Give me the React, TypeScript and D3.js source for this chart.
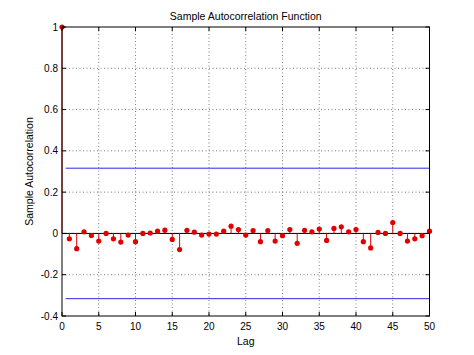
import React from "react";
import * as d3 from "d3";

const lags: number[] = d3.range(0, 51);
const acf: number[] = [
  1, -0.026, -0.074, 0.008, -0.01, -0.037, 0.0, -0.026, -0.042, -0.008, -0.04,
  0.0, 0.002, 0.011, 0.016, -0.029, -0.078, 0.015, 0.006, -0.008, -0.003,
  -0.003, 0.011, 0.035, 0.019, -0.008, 0.014, -0.04, 0.014, -0.037, -0.011,
  0.019, -0.048, 0.015, 0.008, 0.021, -0.034, 0.024, 0.032, 0.008, 0.019,
  -0.04, -0.07, 0.005, 0.0, 0.053, 0.0, -0.037, -0.026, -0.011, 0.011,
];
const bound = 0.316;
const boundStart = 0.5;
const xTicks: number[] = [0, 5, 10, 15, 20, 25, 30, 35, 40, 45, 50];
const yTicks: number[] = [-0.4, -0.2, 0, 0.2, 0.4, 0.6, 0.8, 1];

const W = 474;
const H = 355;
const L = 62;
const R = 429.5;
const T = 27;
const B = 316;
const FONT = "'Liberation Sans', Arial, Helvetica, sans-serif";

export default function App() {
  const x = d3.scaleLinear().domain([0, 50]).range([L, R]);
  const y = d3.scaleLinear().domain([-0.4, 1]).range([B, T]);
  const red = "#e00000";
  const blue = "#2a2ae0";
  const fmt = (v: number) => (Math.abs(v) < 1e-9 ? "0" : String(+v.toFixed(1)));
  return (
    <svg
      width={W}
      height={H}
      style={{ position: "absolute", left: 0, top: 0, background: "#fff" }}
      fontFamily={FONT}
    >
      <rect x={0} y={0} width={W} height={H} fill="#fff" />
      {/* grid */}
      {xTicks.slice(1, -1).map((t) => (
        <line
          key={"gx" + t}
          x1={x(t)}
          x2={x(t)}
          y1={T}
          y2={B}
          stroke="#444"
          strokeWidth={0.7}
          strokeDasharray="1,2.5"
        />
      ))}
      {yTicks.slice(1, -1).map((t) => (
        <line
          key={"gy" + t}
          x1={L}
          x2={R}
          y1={y(t)}
          y2={y(t)}
          stroke="#444"
          strokeWidth={0.7}
          strokeDasharray="1,2.5"
        />
      ))}
      {/* bounds */}
      {[bound, -bound].map((b, i) => (
        <line
          key={"b" + i}
          x1={x(boundStart)}
          x2={x(50)}
          y1={y(b)}
          y2={y(b)}
          stroke={blue}
          strokeWidth={1}
        />
      ))}
      {/* zero line */}
      <line x1={L} x2={R} y1={y(0)} y2={y(0)} stroke="#000" strokeWidth={1} />
      {/* stems */}
      {lags.map((l, i) => (
        <line
          key={"s" + l}
          x1={x(l)}
          x2={x(l)}
          y1={y(0)}
          y2={y(acf[i])}
          stroke={red}
          strokeWidth={1}
        />
      ))}
      {lags.map((l, i) => (
        <circle key={"m" + l} cx={x(l)} cy={y(acf[i])} r={2.6} fill={red} />
      ))}
      {/* frame */}
      <rect
        x={L}
        y={T}
        width={R - L}
        height={B - T}
        fill="none"
        stroke="#000"
        strokeWidth={1}
      />
      {/* ticks */}
      {xTicks.map((t) => (
        <g key={"tx" + t}>
          <line x1={x(t)} x2={x(t)} y1={B} y2={B - 4} stroke="#000" />
          <line x1={x(t)} x2={x(t)} y1={T} y2={T + 4} stroke="#000" />
          <text
            x={x(t)}
            y={B + 14}
            fontSize={10}
            textAnchor="middle"
            fill="#000"
          >
            {t}
          </text>
        </g>
      ))}
      {yTicks.map((t) => (
        <g key={"ty" + t}>
          <line x1={L} x2={L + 4} y1={y(t)} y2={y(t)} stroke="#000" />
          <line x1={R} x2={R - 4} y1={y(t)} y2={y(t)} stroke="#000" />
          <text
            x={L - 4}
            y={y(t) + 3.5}
            fontSize={10}
            textAnchor="end"
            fill="#000"
          >
            {fmt(t)}
          </text>
        </g>
      ))}
      <text
        x={(L + R) / 2}
        y={20}
        fontSize={10.5}
        textAnchor="middle"
        fill="#000"
      >
        Sample Autocorrelation Function
      </text>
      <text
        x={(L + R) / 2}
        y={345}
        fontSize={10.5}
        textAnchor="middle"
        fill="#000"
      >
        Lag
      </text>
      <text
        transform={`translate(33, ${(T + B) / 2}) rotate(-90)`}
        fontSize={10.5}
        textAnchor="middle"
        fill="#000"
      >
        Sample Autocorrelation
      </text>
    </svg>
  );
}
